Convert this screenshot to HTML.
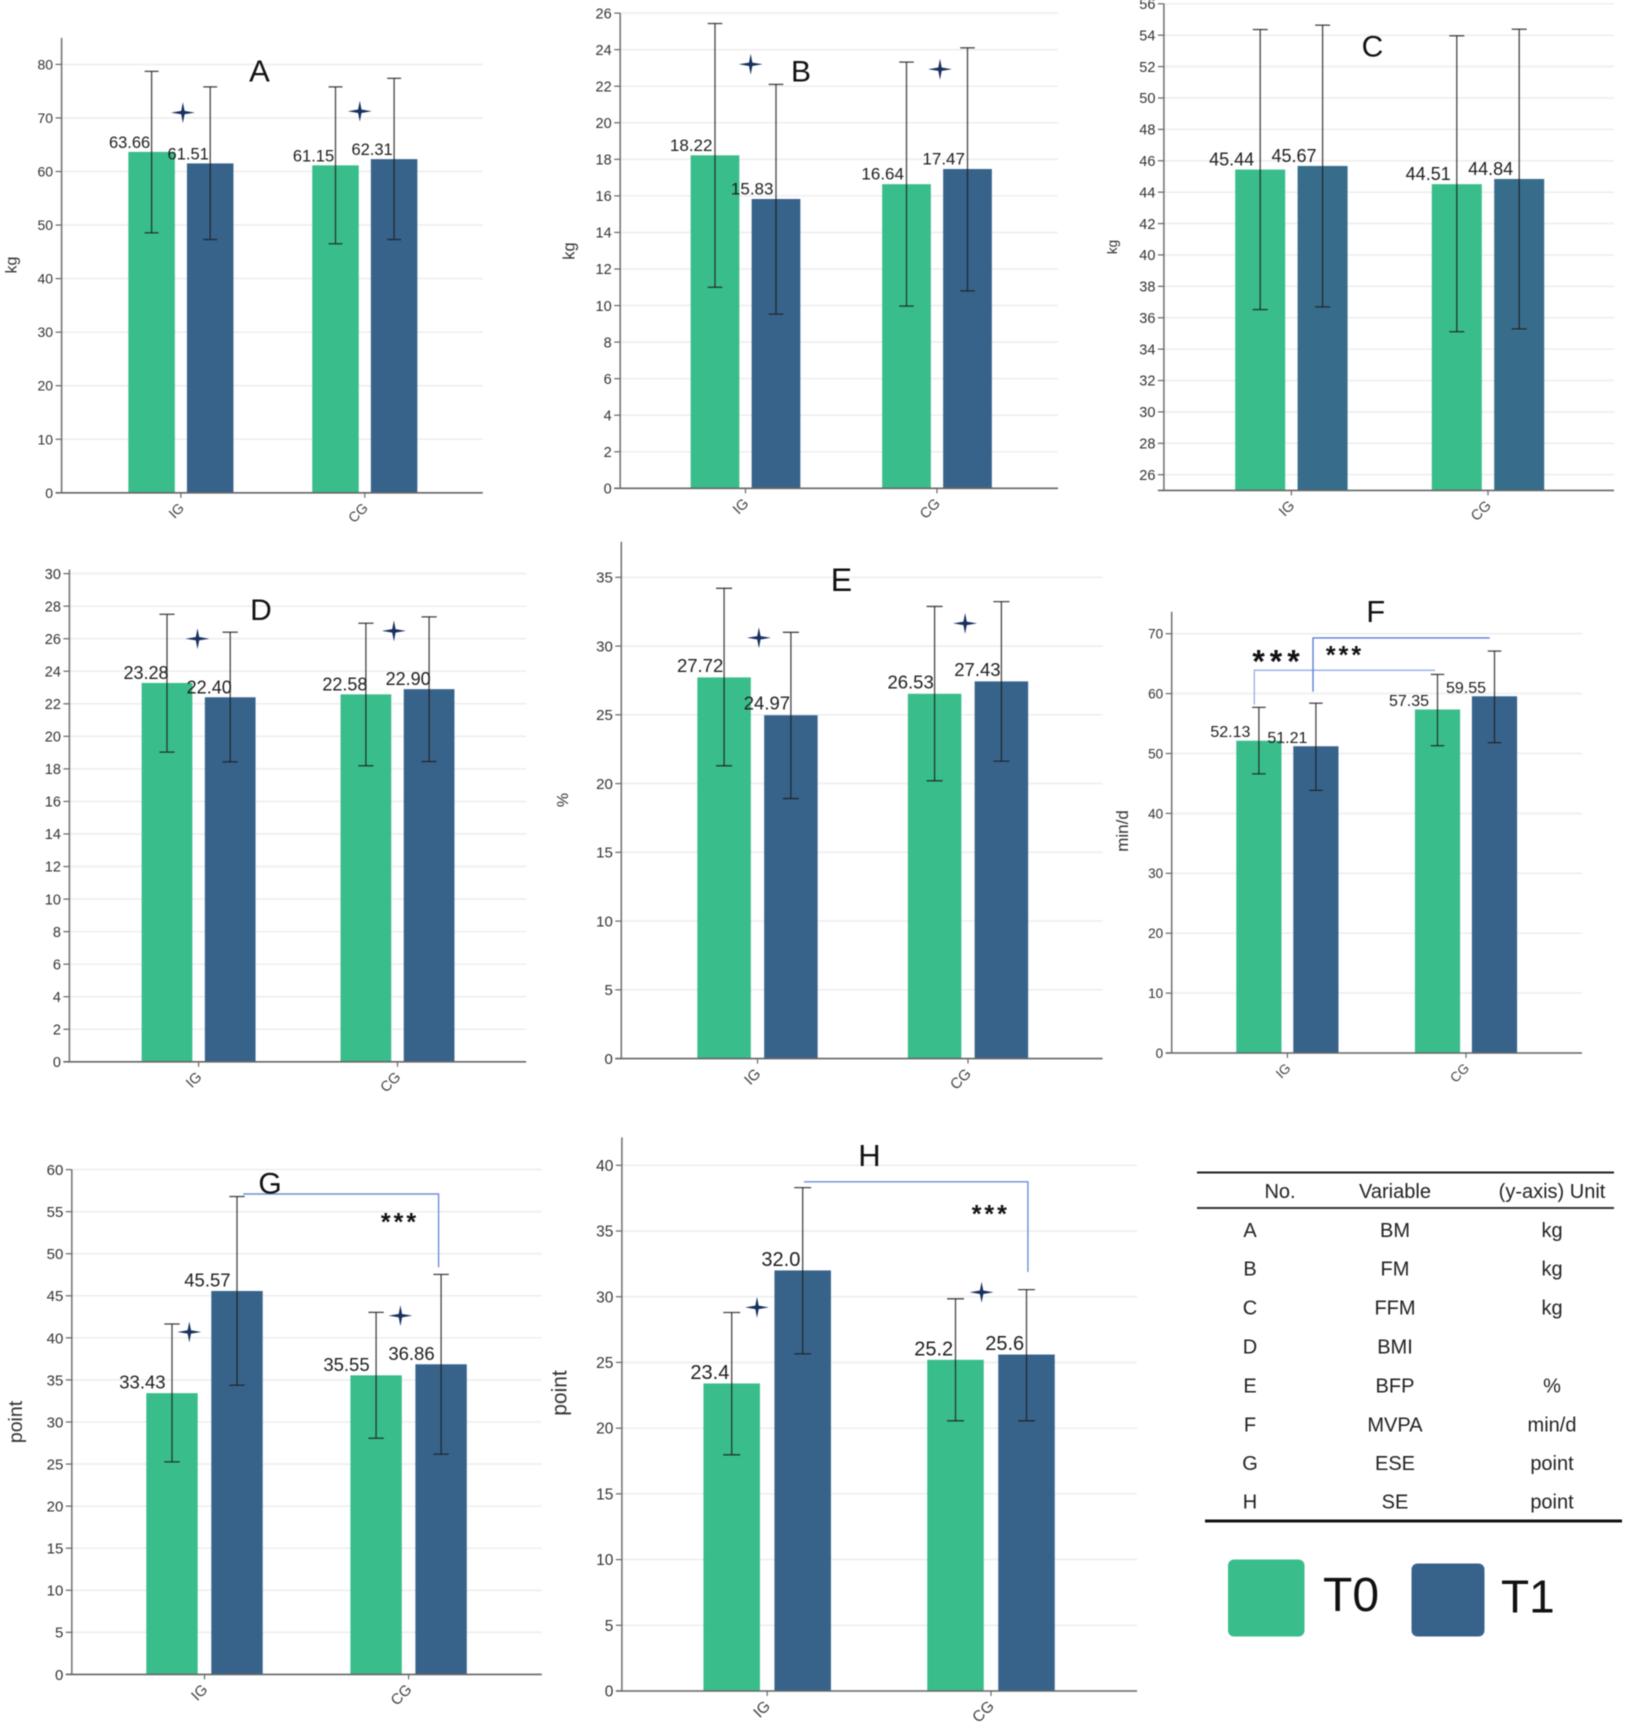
<!DOCTYPE html>
<html lang="en">
<head>
<meta charset="utf-8">
<title>Body composition and activity outcomes by group and time</title>
<style>
html,body{margin:0;padding:0;background:#fff;width:1625px;height:1727px;overflow:hidden}
svg{display:block;filter:blur(0.45px);font-family:"Liberation Sans",sans-serif}
</style>
</head>
<body>
<svg id="figure" xmlns="http://www.w3.org/2000/svg" width="1625" height="1727" viewBox="0 0 1625 1727">
  <rect x="0" y="0" width="1625" height="1727" fill="#ffffff"/>
  <g id="charts"></g>

  <g font-size="20" fill="#222" text-anchor="middle">
    <line x1="1197" y1="1172.5" x2="1614" y2="1172.5" stroke="#222" stroke-width="2"/>
    <line x1="1197" y1="1208" x2="1614" y2="1208" stroke="#333" stroke-width="2"/>
    <line x1="1205" y1="1521" x2="1622" y2="1521" stroke="#111" stroke-width="3"/>
    <text x="1280" y="1198">No.</text>
    <text x="1395" y="1198">Variable</text>
    <text x="1552" y="1198">(y-axis) Unit</text>
    <text x="1250" y="1237">A</text>
    <text x="1395" y="1237">BM</text>
    <text x="1552" y="1237">kg</text>
    <text x="1250" y="1275.5">B</text>
    <text x="1395" y="1275.5">FM</text>
    <text x="1552" y="1275.5">kg</text>
    <text x="1250" y="1314.5">C</text>
    <text x="1395" y="1314.5">FFM</text>
    <text x="1552" y="1314.5">kg</text>
    <text x="1250" y="1353.5">D</text>
    <text x="1395" y="1353.5">BMI</text>
    <text x="1250" y="1392.5">E</text>
    <text x="1395" y="1392.5">BFP</text>
    <text x="1552" y="1392.5">%</text>
    <text x="1250" y="1431.5">F</text>
    <text x="1395" y="1431.5">MVPA</text>
    <text x="1552" y="1431.5">min/d</text>
    <text x="1250" y="1470">G</text>
    <text x="1395" y="1470">ESE</text>
    <text x="1552" y="1470">point</text>
    <text x="1250" y="1508.5">H</text>
    <text x="1395" y="1508.5">SE</text>
    <text x="1552" y="1508.5">point</text>
  </g>

  <g>
    <rect x="1228" y="1559.5" width="76.5" height="77" rx="6" fill="#39bd8b"/>
    <text x="1323" y="1611" font-size="48" fill="#111">T0</text>
    <rect x="1411.5" y="1563.5" width="73" height="73" rx="6" fill="#37638b"/>
    <text x="1501" y="1612.5" font-size="46" fill="#111">T1</text>
  </g>
</svg>

<script>
// ---- Shared categories ----
const categories = ['IG', 'CG'];

// ---- Panel A (BM, kg) ----
const ticksA = [0, 10, 20, 30, 40, 50, 60, 70, 80];
const t0MeanA = [63.66, 61.15];
const t1MeanA = [61.51, 62.31];
const t0HighA = [78.7, 75.8];
const t0LowA = [48.55, 46.5];
const t1HighA = [75.8, 77.4];
const t1LowA = [47.3, 47.3];
const starValuesA = [71, 71.25];

// ---- Panel B (FM, kg) ----
const ticksB = [0, 2, 4, 6, 8, 10, 12, 14, 16, 18, 20, 22, 24, 26];
const t0MeanB = [18.22, 16.64];
const t1MeanB = [15.83, 17.47];
const t0HighB = [25.43, 23.32];
const t0LowB = [11.0, 9.97];
const t1HighB = [22.1, 24.1];
const t1LowB = [9.53, 10.8];
const starValuesB = [23.2, 22.93];

// ---- Panel C (FFM, kg) ----
const ticksC = [26, 28, 30, 32, 34, 36, 38, 40, 42, 44, 46, 48, 50, 52, 54, 56];
const t0MeanC = [45.44, 44.51];
const t1MeanC = [45.67, 44.84];
const t0HighC = [54.36, 53.96];
const t0LowC = [36.52, 35.11];
const t1HighC = [54.64, 54.38];
const t1LowC = [36.69, 35.29];

// ---- Panel D (BMI) ----
const ticksD = [0, 2, 4, 6, 8, 10, 12, 14, 16, 18, 20, 22, 24, 26, 28, 30];
const t0MeanD = [23.28, 22.58];
const t1MeanD = [22.40, 22.90];
const t0HighD = [27.5, 26.95];
const t0LowD = [19.03, 18.19];
const t1HighD = [26.4, 27.34];
const t1LowD = [18.43, 18.45];
const starValuesD = [26.0, 26.48];

// ---- Panel E (BFP, %) ----
const ticksE = [0, 5, 10, 15, 20, 25, 30, 35];
const t0MeanE = [27.72, 26.53];
const t1MeanE = [24.97, 27.43];
const t0HighE = [34.2, 32.88];
const t0LowE = [21.29, 20.2];
const t1HighE = [31.0, 33.23];
const t1LowE = [18.91, 21.63];
const starValuesE = [30.6, 31.65];

// ---- Panel F (MVPA, min/d) ----
const ticksF = [0, 10, 20, 30, 40, 50, 60, 70];
const t0MeanF = [52.13, 57.35];
const t1MeanF = [51.21, 59.55];
const t0HighF = [57.7, 63.2];
const t0LowF = [46.6, 51.3];
const t1HighF = [58.4, 67.1];
const t1LowF = [43.85, 51.8];

// ---- Panel G (ESE, point) ----
const ticksG = [0, 5, 10, 15, 20, 25, 30, 35, 40, 45, 50, 55, 60];
const t0MeanG = [33.43, 35.55];
const t1MeanG = [45.57, 36.86];
const t0HighG = [41.65, 43.03];
const t0LowG = [25.26, 28.07];
const t1HighG = [56.8, 47.54];
const t1LowG = [34.38, 26.18];
const starValuesG = [40.7, 42.64];

// ---- Panel H (SE, point) ----
const ticksH = [0, 5, 10, 15, 20, 25, 30, 35, 40];
const t0MeanH = [23.4, 25.2];
const t1MeanH = [32.0, 25.6];
const t0HighH = [28.8, 29.84];
const t0LowH = [17.97, 20.56];
const t1HighH = [38.3, 30.54];
const t1LowH = [25.65, 20.56];
const starValuesH = [29.19, 30.34];

const GREEN = '#39bd8b', BLUE = '#37638b';
const SVGNS = 'http://www.w3.org/2000/svg';
const chartsRoot = document.getElementById('charts');

function mk(tag, attrs, name, parent, text) {
  const el = document.createElementNS(SVGNS, tag);
  for (const k in attrs) el.setAttribute(k, attrs[k]);
  
  
  if (text !== undefined) el.textContent = text;
  parent.appendChild(el);
  return el;
}

function starPath(cx, cy, rx, ry) {
  const i = 1.7;
  return 'M' + (cx - rx) + ' ' + cy + 'L' + (cx - i) + ' ' + (cy - i) + 'L' + cx + ' ' + (cy - ry) +
    'L' + (cx + i) + ' ' + (cy - i) + 'L' + (cx + rx) + ' ' + cy + 'L' + (cx + i) + ' ' + (cy + i) +
    'L' + cx + ' ' + (cy + ry) + 'L' + (cx - i) + ' ' + (cy + i) + 'Z';
}

function drawPanel(p) {
  const id = p.letter.toLowerCase();
  const g = mk('g', {}, 'panel-' + id, chartsRoot);
  const y = v => p.y0 - (v - p.min) * (p.y0 - p.yMaxPx) / (p.max - p.min);
  const gx = i => p.cx0 + i * p.step;

  // gridlines
  p.ticks.forEach(t => {
    mk('line', {x1: p.x0, x2: p.xR, y1: y(t), y2: y(t), stroke: '#eeeeee', 'stroke-width': 1.6}, 'gridline-' + id + '-' + t, g);
  });

  // bars
  categories.forEach((c, i) => {
    [[p.t0, GREEN, -1, 't0'], [p.t1, p.blue || BLUE, 1, 't1']].forEach(s => {
      const cx = gx(i) + s[2] * p.off;
      mk('rect', {x: cx - p.w / 2, y: y(s[0][i]), width: p.w, height: p.y0 - y(s[0][i]), fill: s[1]},
        'bar-' + id + '-' + c.toLowerCase() + '-' + s[3], g);
    });
  });

  // axes
  mk('line', {x1: p.x0, x2: p.x0, y1: p.axisTop, y2: p.y0, stroke: '#777', 'stroke-width': 1.6}, 'y-axis-' + id, g);
  mk('line', {x1: p.x0 - 6, x2: p.xR, y1: p.y0, y2: p.y0, stroke: '#666', 'stroke-width': 1.6}, 'x-axis-' + id, g);

  // y ticks and labels
  p.ticks.forEach(t => {
    mk('line', {x1: p.x0 - 6, x2: p.x0, y1: y(t), y2: y(t), stroke: '#666', 'stroke-width': 1.2}, 'y-tick-' + id + '-' + t, g);
    mk('text', {x: p.x0 - 8.5, y: y(t) + p.tickFs * 0.36, 'text-anchor': 'end', 'font-size': p.tickFs, fill: '#333'},
      'y-tick-label-' + id + '-' + t, g, String(t));
  });

  // x ticks and labels
  categories.forEach((c, i) => {
    mk('line', {x1: gx(i), x2: gx(i), y1: p.y0, y2: p.y0 + 5, stroke: '#666', 'stroke-width': 1.2}, 'x-tick-' + id + '-' + c.toLowerCase(), g);
    mk('text', {transform: 'translate(' + (gx(i) + 4) + ',' + (p.y0 + 16) + ') rotate(-45)', 'text-anchor': 'end',
      'font-size': p.tickFs, fill: '#444'}, 'x-tick-label-' + id + '-' + c.toLowerCase(), g, c);
  });

  // error bars
  categories.forEach((c, i) => {
    [[p.t0High, p.t0Low, -1, 't0'], [p.t1High, p.t1Low, 1, 't1']].forEach(s => {
      const cx = gx(i) + s[2] * p.off;
      const hw = p.w * 0.15;
      const key = id + '-' + c.toLowerCase() + '-' + s[3];
      const e = mk('g', {stroke: '#1c1c1c', 'stroke-width': 1.3, 'stroke-opacity': 0.82}, 'error-bar-' + key, g);
      mk('line', {x1: cx, x2: cx, y1: y(s[0][i]), y2: y(s[1][i])}, 'error-stem-' + key, e);
      mk('line', {x1: cx - hw, x2: cx + hw, y1: y(s[0][i]), y2: y(s[0][i])}, 'error-cap-high-' + key, e);
      mk('line', {x1: cx - hw, x2: cx + hw, y1: y(s[1][i]), y2: y(s[1][i])}, 'error-cap-low-' + key, e);
    });
  });

  // value labels
  categories.forEach((c, i) => {
    [[p.t0, -1, 't0'], [p.t1, 1, 't1']].forEach(s => {
      const cx = gx(i) + s[1] * p.off;
      mk('text', {x: cx + p.labelDx, y: y(s[0][i]) - p.labelRise, 'text-anchor': 'middle', 'font-size': p.labelFs, fill: '#1e1e1e'},
        'value-label-' + id + '-' + c.toLowerCase() + '-' + s[2], g, s[0][i].toFixed(p.decimals));
    });
  });

  // significance stars (four-pointed)
  if (p.stars) {
    p.stars.forEach((v, i) => {
      mk('path', {d: starPath(gx(i) + p.starDx[i], y(v), 12, 10.5), fill: '#17305f'},
        'significance-star-' + id + '-' + categories[i].toLowerCase(), g);
    });
  }

  // brackets
  (p.brackets || []).forEach((b, i) => {
    const xa = gx(0) + b.dxA, xb = gx(1) + b.dxB;
    const d = b.dropRight
      ? 'M' + xa + ' ' + y(b.top) + 'H' + xb + 'V' + y(b.end)
      : 'M' + xa + ' ' + y(b.end) + 'V' + y(b.top) + 'H' + xb;
    mk('path', {d: d, fill: 'none', stroke: b.color, 'stroke-width': 1.4}, 'significance-bracket-' + id + '-' + (i + 1), g);
  });

  // asterisks
  (p.asterisks || []).forEach((a, i) => {
    mk('text', {x: a.x, y: a.y + a.fs * 0.58, 'text-anchor': 'middle', 'font-size': a.fs, 'font-weight': 'bold', 'letter-spacing': a.ls, fill: '#111'},
      'significance-asterisks-' + id + '-' + (i + 1), g, '***');
  });

  // panel letter
  mk('text', {x: p.letterX, y: p.letterY + p.letterFs * 0.36, 'text-anchor': 'middle', 'font-size': p.letterFs, fill: '#111'},
    'panel-letter-' + id, g, p.letter);

  // y axis title
  if (p.yTitle) {
    mk('text', {transform: 'translate(' + p.yTitleX + ',' + p.yTitleY + ') rotate(-90)', 'text-anchor': 'middle',
      'dominant-baseline': 'central', 'font-size': p.yTitleFs, fill: '#333'}, 'y-axis-title-' + id, g, p.yTitle);
  }
}

drawPanel({letter: 'A', ticks: ticksA, min: 0, max: 80, y0: 492.8, yMaxPx: 64.4, x0: 61.6, xR: 482.8, axisTop: 37.9,
  cx0: 180.9, step: 183.9, off: 29.3, w: 46.5, tickFs: 14, labelFs: 16.5, labelDx: -22, labelRise: 4, decimals: 2,
  t0: t0MeanA, t1: t1MeanA, t0High: t0HighA, t0Low: t0LowA, t1High: t1HighA, t1Low: t1LowA,
  stars: starValuesA, starDx: [2, -5], letterX: 259.5, letterY: 70.5, letterFs: 31,
  yTitle: 'kg', yTitleX: 12, yTitleY: 265, yTitleFs: 16});

drawPanel({letter: 'B', ticks: ticksB, min: 0, max: 26, y0: 488.3, yMaxPx: 13.1, x0: 620.2, xR: 1058, axisTop: 13.1,
  cx0: 745.5, step: 191.5, off: 30.5, w: 48.7, tickFs: 14.5, labelFs: 17, labelDx: -23.8, labelRise: 4.5, decimals: 2,
  t0: t0MeanB, t1: t1MeanB, t0High: t0HighB, t0Low: t0LowB, t1High: t1HighB, t1Low: t1LowB,
  stars: starValuesB, starDx: [5.2, 3], letterX: 801, letterY: 70.6, letterFs: 30,
  yTitle: 'kg', yTitleX: 569.3, yTitleY: 251, yTitleFs: 16.5});

drawPanel({letter: 'C', ticks: ticksC, min: 25, max: 56, y0: 490.4, yMaxPx: 3.8, x0: 1163.9, xR: 1614, axisTop: 3.8,
  cx0: 1291.4, step: 196.6, off: 31.2, w: 50, tickFs: 14.5, labelFs: 18, labelDx: -28.6, labelRise: 4, decimals: 2,
  blue: '#376d8b',
  t0: t0MeanC, t1: t1MeanC, t0High: t0HighC, t0Low: t0LowC, t1High: t1HighC, t1Low: t1LowC,
  letterX: 1372.5, letterY: 45.8, letterFs: 30,
  yTitle: 'kg', yTitleX: 1112.5, yTitleY: 247, yTitleFs: 13.5});

drawPanel({letter: 'D', ticks: ticksD, min: 0, max: 30, y0: 1061.8, yMaxPx: 573.6, x0: 69.4, xR: 526.1, axisTop: 569.6,
  cx0: 198.6, step: 198.9, off: 31.6, w: 50.7, tickFs: 14.5, labelFs: 18, labelDx: -21, labelRise: 4, decimals: 2,
  t0: t0MeanD, t1: t1MeanD, t0High: t0HighD, t0Low: t0LowD, t1High: t1HighD, t1Low: t1LowD,
  stars: starValuesD, starDx: [-1.1, -3.6], letterX: 261, letterY: 609.3, letterFs: 30});

drawPanel({letter: 'E', ticks: ticksE, min: 0, max: 35, y0: 1058.6, yMaxPx: 577.3, x0: 621.3, xR: 1102.5, axisTop: 541.8,
  cx0: 757.5, step: 210.5, off: 33.4, w: 53.5, tickFs: 15, labelFs: 18.5, labelDx: -24, labelRise: 5.5, decimals: 2,
  t0: t0MeanE, t1: t1MeanE, t0High: t0HighE, t0Low: t0LowE, t1High: t1HighE, t1Low: t1LowE,
  stars: starValuesE, starDx: [1.4, -2.9], letterX: 841.4, letterY: 579.5, letterFs: 32,
  yTitle: '%', yTitleX: 563.3, yTitleY: 800, yTitleFs: 16});

drawPanel({letter: 'F', ticks: ticksF, min: 0, max: 70, y0: 1053, yMaxPx: 633.7, x0: 1171.7, xR: 1582, axisTop: 611.7,
  cx0: 1287.4, step: 178.6, off: 28.5, w: 45.2, tickFs: 13.5, labelFs: 16, labelDx: -28.5, labelRise: 3.5, decimals: 2,
  t0: t0MeanF, t1: t1MeanF, t0High: t0HighF, t0Low: t0LowF, t1High: t1HighF, t1Low: t1LowF,
  brackets: [
    {dxA: -33.1, dxB: -31, top: 63.9, end: 58.15, color: '#9db4e8'},
    {dxA: 25.6, dxB: 23.7, top: 69.3, end: 60.3, color: '#5b80d4'}
  ],
  asterisks: [{x: 1278.5, y: 654, fs: 32, ls: 5}, {x: 1345, y: 649, fs: 25, ls: 3}],
  letterX: 1375.7, letterY: 611, letterFs: 31,
  yTitle: 'min/d', yTitleX: 1122.4, yTitleY: 831, yTitleFs: 17});

drawPanel({letter: 'G', ticks: ticksG, min: 0, max: 60, y0: 1674.4, yMaxPx: 1169.6, x0: 71.8, xR: 541.8, axisTop: 1169.6,
  cx0: 204.5, step: 204.1, off: 32.5, w: 51.4, tickFs: 15, labelFs: 18.5, labelDx: -29.6, labelRise: 4.5, decimals: 2,
  t0: t0MeanG, t1: t1MeanG, t0High: t0HighG, t0Low: t0LowG, t1High: t1HighG, t1Low: t1LowG,
  stars: starValuesG, starDx: [-15.2, -8.2],
  brackets: [{dxA: 38.7, dxB: 30, top: 57.1, end: 48.4, color: '#6e8fd8', dropRight: true}],
  asterisks: [{x: 400, y: 1216, fs: 25, ls: 3}],
  letterX: 270, letterY: 1182.7, letterFs: 30,
  yTitle: 'point', yTitleX: 16, yTitleY: 1422, yTitleFs: 19.5});

drawPanel({letter: 'H', ticks: ticksH, min: 0, max: 40, y0: 1691, yMaxPx: 1165.3, x0: 621.9, xR: 1137, axisTop: 1137.4,
  cx0: 767.2, step: 223.8, off: 35.5, w: 56.5, tickFs: 15.5, labelFs: 20, labelDx: -21.8, labelRise: 4.5, decimals: 1,
  t0: t0MeanH, t1: t1MeanH, t0High: t0HighH, t0Low: t0LowH, t1High: t1HighH, t1Low: t1LowH,
  stars: starValuesH, starDx: [-10.2, -9.4],
  brackets: [{dxA: 36.8, dxB: 36.9, top: 38.74, end: 31.88, color: '#6e8fd8', dropRight: true}],
  asterisks: [{x: 990.8, y: 1208, fs: 25, ls: 3}],
  letterX: 869.5, letterY: 1154.8, letterFs: 31,
  yTitle: 'point', yTitleX: 560, yTitleY: 1393, yTitleFs: 21});
</script>
</body>
</html>
